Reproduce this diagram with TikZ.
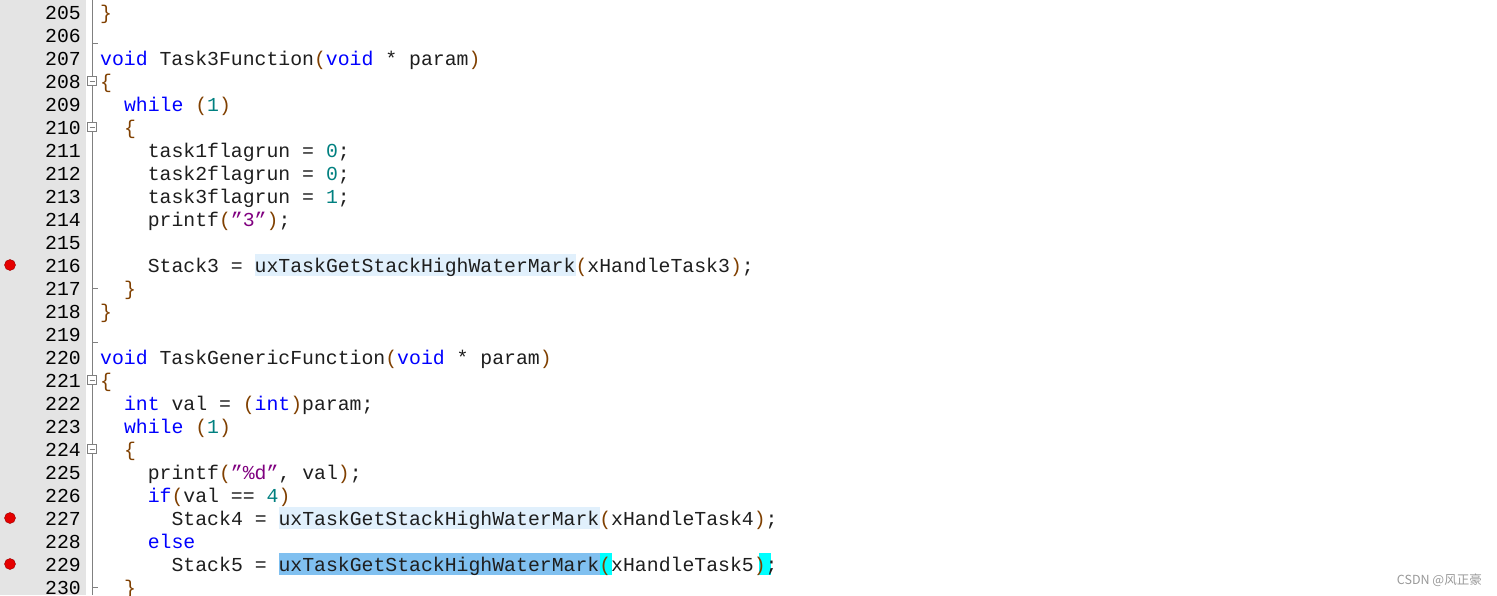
\documentclass[tikz,border=0pt]{standalone}
\usepackage{fontspec}
\setmainfont{Liberation Mono}
\newfontfamily\cjk{Noto Sans CJK SC}
\definecolor{kwc}{RGB}{0,0,255}
\definecolor{nmc}{RGB}{0,128,128}
\definecolor{stc}{RGB}{128,0,128}
\definecolor{pnc}{RGB}{128,64,0}
\definecolor{txc}{RGB}{30,30,30}
\definecolor{gut}{RGB}{228,228,228}
\definecolor{hl}{RGB}{225,240,252}
\definecolor{hs}{RGB}{128,192,240}
\definecolor{brc}{RGB}{0,255,255}
\newcommand\kw[1]{\textcolor{kwc}{#1}}
\newcommand\nm[1]{\textcolor{nmc}{#1}}
\newcommand\st[1]{\textcolor{stc}{#1}}
\newcommand\pn[1]{\textcolor{pnc}{#1}}
\begin{document}
\begin{tikzpicture}[x=1pt,y=-1pt,
  code/.style={anchor=base west,inner sep=0pt,font=\fontsize{19.8}{20}\selectfont,text=txc},
  lnum/.style={anchor=base east,inner sep=0pt,font=\fontsize{19.8}{20}\selectfont,text=black},
  bp/.style={circle,fill=red!90!black,draw=red!60!black,minimum size=11pt,inner sep=0pt},
  fold/.style={draw=gray,fill=white,minimum size=9pt,inner sep=0pt,line width=0.6pt}]
\useasboundingbox (0,0) rectangle (1497,595);
\fill[white] (0,0) rectangle (1497,595);
\fill[gut] (0,0) rectangle (86,595);
\draw[gray,line width=0.8pt] (92,0) -- (92,595);
% highlights
\fill[hl] (254.7,{12+23*11-11}) rectangle ++(321.3,22);
\fill[hl] (278.5,{12+23*22-11}) rectangle ++(321.3,22);
\fill[hs] (278.5,{12+23*24-11}) rectangle ++(321.3,22);
\fill[brc] (599.8,{12+23*24-11}) rectangle ++(11.9,22);
\fill[brc] (759.3,{12+23*24-11}) rectangle ++(11.9,22);
% fold markers
\foreach \i in {3,5,16,19}{
  \node[fold] (f\i) at (92,{12+23*\i}) {};
  \draw[gray,line width=0.6pt] ([xshift=-2.5pt]f\i.center) -- ([xshift=2.5pt]f\i.center);}
\foreach \i in {1,14}{\draw[gray,line width=0.8pt] (92,{12+23*\i+8}) -- (98,{12+23*\i+8});}
\foreach \i in {12,25}{\draw[gray,line width=0.8pt] (92,{12+23*\i}) -- (98,{12+23*\i});}
% line numbers
\foreach \i in {0,...,25}{
  \pgfmathtruncatemacro\n{205+\i}
  \node[lnum] (ln\i) at (81,{12+23*\i+7}) {\n};}
% breakpoints
\node[bp] (b1) at (10,{12+23*11}) {};
\node[bp] (b2) at (10,{12+23*22}) {};
\node[bp] (b3) at (10,{12+23*24}) {};
% code
\newcommand\cl[3]{\node[code] (c#1) at ({100+11.9*#2},{12+23*#1+7}) {#3};}
\cl{0}{0}{\pn{\}}}
\cl{2}{0}{\kw{void} Task3Function\pn{(}\kw{void} * param\pn{)}}
\cl{3}{0}{\pn{\{}}
\cl{4}{2}{\kw{while} \pn{(}\nm{1}\pn{)}}
\cl{5}{2}{\pn{\{}}
\cl{6}{4}{task1flagrun = \nm{0};}
\cl{7}{4}{task2flagrun = \nm{0};}
\cl{8}{4}{task3flagrun = \nm{1};}
\cl{9}{4}{printf\pn{(}\st{"3"}\pn{)};}
\cl{11}{4}{Stack3 = uxTaskGetStackHighWaterMark\pn{(}xHandleTask3\pn{)};}
\cl{12}{2}{\pn{\}}}
\cl{13}{0}{\pn{\}}}
\cl{15}{0}{\kw{void} TaskGenericFunction\pn{(}\kw{void} * param\pn{)}}
\cl{16}{0}{\pn{\{}}
\cl{17}{2}{\kw{int} val = \pn{(}\kw{int}\pn{)}param;}
\cl{18}{2}{\kw{while} \pn{(}\nm{1}\pn{)}}
\cl{19}{2}{\pn{\{}}
\cl{20}{4}{printf\pn{(}\st{"\%d"}, val\pn{)};}
\cl{21}{4}{\kw{if}\pn{(}val == \nm{4}\pn{)}}
\cl{22}{6}{Stack4 = uxTaskGetStackHighWaterMark\pn{(}xHandleTask4\pn{)};}
\cl{23}{4}{\kw{else}}
\cl{24}{6}{Stack5 = uxTaskGetStackHighWaterMark\pn{(}xHandleTask5\pn{)};}
\cl{25}{2}{\pn{\}}}
\node[anchor=base east,inner sep=0pt,font=\cjk\fontsize{12.5}{13}\selectfont,text=gray!80] (wm) at (1482,584) {CSDN @风正豪};
\end{tikzpicture}
\end{document}
